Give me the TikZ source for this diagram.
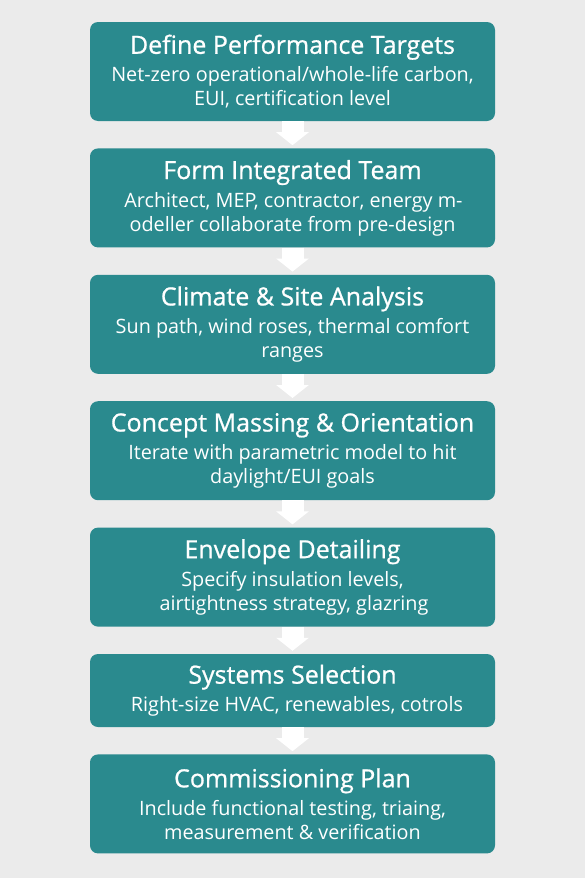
\documentclass[tikz,border=0pt]{standalone}
\usepackage{fontspec}
\setmainfont{Open Sans}
\newfontfamily\titlefont[FakeBold=0.8]{Open Sans}
\usetikzlibrary{positioning,arrows.meta}

\definecolor{stepteal}{RGB}{42,138,142}
\definecolor{pagegrey}{RGB}{235,235,235}

\newcommand{\steptitle}[1]{{\titlefont\fontsize{25pt}{28pt}\selectfont #1}\\[4pt]}

\tikzset{
	stepbox/.style={draw=none, fill=stepteal, rounded corners=8pt, text=white,
		minimum width=405pt, minimum height=99pt, align=center, inner sep=0pt,
		font=\fontsize{19.8pt}{24pt}\selectfont},
	flowarrow/.style={draw=white, line width=22pt,
		-{Triangle[width=32pt,length=13pt]}, shorten >=3pt}
}

\begin{document}
\begin{tikzpicture}[x=1pt,y=1pt]
		%page
			\fill[pagegrey] (0,0) rectangle (585,-878);
			\useasboundingbox (0,0) rectangle (585,-878);
		%steps
			\node[stepbox] (targets) at (292.5,-71.5) {\steptitle{Define Performance Targets}Net-zero operational/whole-life carbon,\\EUI, certification level\hspace{8pt}};
			\node[stepbox, below=27pt of targets] (team) {\steptitle{Form Integrated Team\hspace{18pt}}\hspace{2pt}Architect, MEP, contractor, energy m-\\odeller collaborate from pre-design\hspace{7pt}};
			\node[stepbox, below=27pt of team] (site) {\steptitle{Climate \& Site Analysis\hspace{21pt}}Sun path, wind roses, thermal comfort\\ranges};
			\node[stepbox, below=27pt of site] (massing) {\steptitle{Concept Massing \& Orientation\hspace{20pt}}Iterate with parametric model to hit\hspace{8pt}\\daylight/EUI goals\hspace{18pt}};
			\node[stepbox, below=27pt of massing] (envelope) {\steptitle{Envelope Detailing\hspace{19pt}}Specify insulation levels,\hspace{60pt}\\\hspace{3pt}airtightness strategy, glazring};
			\node[stepbox, below=27pt of envelope, minimum height=73pt] (systems) {\steptitle{Systems Selection\hspace{16pt}}\hspace{9pt}Right-size HVAC, renewables, cotrols};
			\node[stepbox, below=27pt of systems] (commissioning) {\steptitle{Commissioning Plan\hspace{23pt}}Include functional testing, triaing,\hspace{5pt}\\measurement \& verification\hspace{20pt}};
		%arrows
			\draw[flowarrow] (targets.south) -- (team.north);
			\draw[flowarrow] (team.south) -- (site.north);
			\draw[flowarrow] (site.south) -- (massing.north);
			\draw[flowarrow] (massing.south) -- (envelope.north);
			\draw[flowarrow] (envelope.south) -- (systems.north);
			\draw[flowarrow] (systems.south) -- (commissioning.north);
	\end{tikzpicture}
\end{document}
